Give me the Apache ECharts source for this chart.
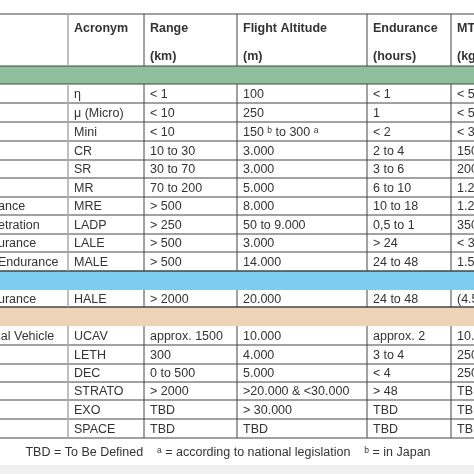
<!DOCTYPE html><html><head><meta charset="utf-8">
<script src="https://cdn.jsdelivr.net/npm/echarts@6/dist/echarts.min.js"></script>
<style>html,body{margin:0;padding:0;background:#fff}#c{width:474px;height:474px}</style></head><body><div id="c"></div>
<script>
const headers1 = ["", "Acronym", "Range", "Flight Altitude", "Endurance", "MTOW"];
const headers2 = ["", "", "(km)", "(m)", "(hours)", "(kg)"];
const categoryCol = ["", "", "", "", "", "", "ance", "etration", "urance", "Endurance", "urance", "ial Vehicle", "", "", "", "", ""];
const acronyms = ["η", "μ (Micro)", "Mini", "CR", "SR", "MR", "MRE", "LADP", "LALE", "MALE", "HALE", "UCAV", "LETH", "DEC", "STRATO", "EXO", "SPACE"];
const ranges = ["< 1", "< 10", "< 10", "10 to 30", "30 to 70", "70 to 200", "> 500", "> 250", "> 500", "> 500", "> 2000", "approx. 1500", "300", "0 to 500", "> 2000", "TBD", "TBD"];
const altitudes = ["100", "250", "150 ᵇ to 300 ᵃ", "3.000", "3.000", "5.000", "8.000", "50 to 9.000", "3.000", "14.000", "20.000", "10.000", "4.000", "5.000", ">20.000 & <30.000", "> 30.000", "TBD"];
const endurance = ["< 1", "1", "< 2", "2 to 4", "3 to 6", "6 to 10", "10 to 18", "0,5 to 1", "> 24", "24 to 48", "24 to 48", "approx. 2", "3 to 4", "< 4", "> 48", "TBD", "TBD"];
const mtow = ["< 5", "< 5", "< 30", "150", "200", "1.250", "1.250", "350", "< 30", "1.500", "(4.500)", "10.000", "250", "250", "TBD", "TBD", "TBD"];
const footnote = "TBD = To Be Defined    ᵃ = according to national legislation    ᵇ = in Japan";

// layout
const colX = [-10, 68, 144, 237, 367, 451, 560];
const rowTops = [84,103,122,141,160,178,197,215,234,252, 290, 326,345,364,382,400,419];
const rowH = [19,19,19,19,18,19,18,19,18,19, 17, 19,19,18,18,19,19];
const bands = [[66,84,'#8fbf9d'],[271,290,'#7dcdf0'],[307,326,'#eed4b6']];

const cols = [categoryCol, acronyms, ranges, altitudes, endurance, mtow];
const cells = [];
for (let r=0;r<acronyms.length;r++) for (let c=0;c<6;c++) cells.push([c, r, cols[c][r]]);

const FONT='12.5px "Liberation Sans", Arial';
const chart = echarts.init(document.getElementById('c'));
chart.setOption({
  animation:false,
  grid:{left:0,right:0,top:0,bottom:0},
  xAxis:{type:'value',min:0,max:474,show:false},
  yAxis:{type:'value',min:0,max:474,inverse:true,show:false},
  series:[
  {type:'custom', renderItem:(p,api)=>{
     const ch=[];
     ch.push({type:'rect',shape:{x:0,y:465,width:474,height:10},style:{fill:'#f0f0f0'}});
     bands.forEach(b=>{const a=api.coord([0,b[0]]),z=api.coord([474,b[1]]);
       ch.push({type:'rect',shape:{x:a[0],y:a[1],width:z[0]-a[0],height:z[1]-a[1]},style:{fill:b[2]}});});
     for(let c=1;c<6;c++){
       const a=api.coord([colX[c]+6,29]), b=api.coord([colX[c]+6,57]);
       ch.push({type:'text',style:{text:headers1[c],x:a[0],y:a[1],fill:'#333',font:'bold '+FONT,verticalAlign:'middle'}});
       ch.push({type:'text',style:{text:headers2[c],x:b[0],y:b[1],fill:'#333',font:'bold '+FONT,verticalAlign:'middle'}});
     }
     const hl=[14,66,84];
     rowTops.forEach((t,i)=>{hl.push(t+rowH[i]);});
     hl.push(271,307);
     hl.forEach(y=>{const a=api.coord([0,y]),z=api.coord([474,y]);
       ch.push({type:'line',shape:{x1:a[0],y1:a[1],x2:z[0],y2:z[1]},style:{stroke:'#444',lineWidth:1}});});
     for(let c=1;c<6;c++){
       const segs=[[14,66],[84,271],[290,307],[326,438]];
       segs.forEach(sg=>{const a=api.coord([colX[c],sg[0]]),z=api.coord([colX[c],sg[1]]);
         ch.push({type:'line',shape:{x1:a[0],y1:a[1],x2:z[0],y2:z[1]},style:{stroke:c==1?'#aaa':'#444',lineWidth:c==1?1.5:1}});});
     }
     const f=api.coord([228,453]);
     ch.push({type:'text',style:{text:footnote,x:f[0],y:f[1],fill:'#333',font:FONT,align:'center',verticalAlign:'middle'}});
     return {type:'group',children:ch};
   }, data:[[0,0]], silent:true},
  {type:'custom', data:cells, renderItem:(p,api)=>{
     const c=api.value(0), r=api.value(1), t=cols[c][r];
     const pos=api.coord([c===0? -2 : colX[c]+6, rowTops[r]+rowH[r]/2+1]);
     return {type:'text',style:{text:t,x:pos[0],y:pos[1],fill:'#333',font:FONT,verticalAlign:'middle'}};
   }, silent:true}
  ]
});
</script></body></html>
